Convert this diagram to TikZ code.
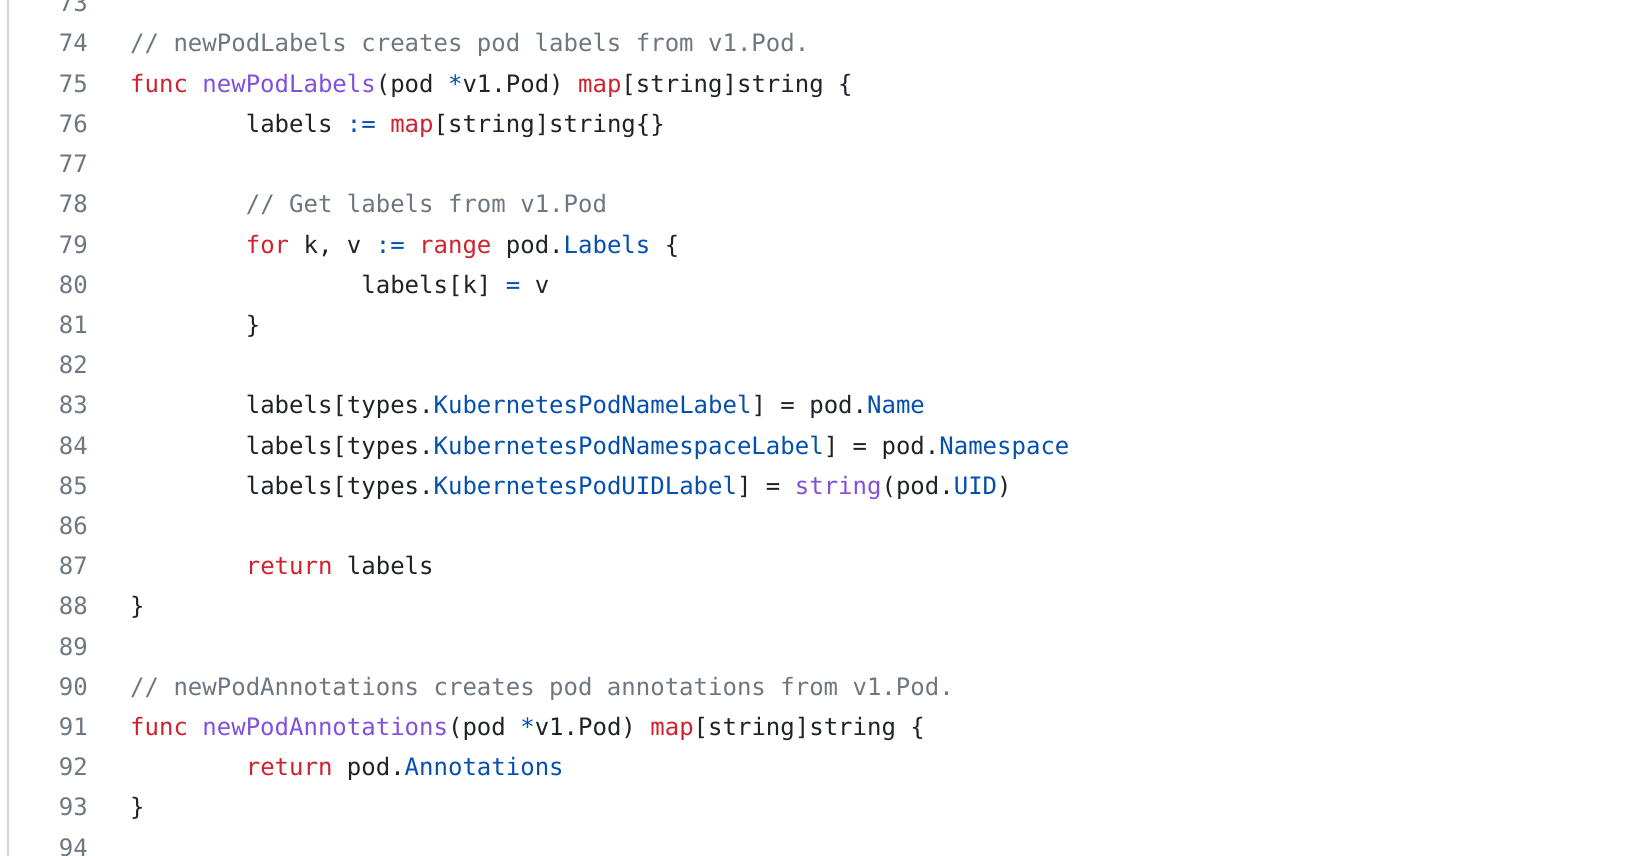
\documentclass[tikz,border=0pt]{standalone}
\usepackage{fontspec}
\newfontfamily\codef{DejaVu Sans Mono}
\definecolor{kw}{HTML}{CF222E}
\definecolor{fn}{HTML}{8250DF}
\definecolor{bl}{HTML}{0550AE}
\definecolor{cm}{HTML}{6E7781}
\definecolor{tx}{HTML}{1F2328}
\definecolor{bd}{HTML}{D0D0E8}
\newcommand\R[1]{\textcolor{kw}{#1}}
\newcommand\Pu[1]{\textcolor{fn}{#1}}
\newcommand\B[1]{\textcolor{bl}{#1}}
\newcommand\Cm[1]{\textcolor{cm}{#1}}
\tikzset{codeline/.style={anchor=base west,inner sep=0pt,font=\codef\fontsize{24}{28}\selectfont,text=tx},
lnum/.style={anchor=base east,inner sep=0pt,font=\codef\fontsize{24}{28}\selectfont,text=cm}}
\begin{document}
\begin{tikzpicture}[x=1pt,y=1pt]
\fill[white] (0,0) rectangle (1652,-856);
\useasboundingbox (0,0) rectangle (1652,-856);
\draw[bd,line width=2pt] (8,0) -- (8,-856);
\foreach \n in {73,...,94}{
  \node[lnum] (n\n) at (88,{-(52+40.2*(\n-74))}) {\n};
}
\def\Y#1{{-(52+40.2*(#1-74))}}
\def\X#1{{130+14.45*#1}}
\node[codeline] (l74) at (\X0,\Y{74}) {\Cm{// newPodLabels creates pod labels from v1.Pod.}};
\node[codeline] (l75) at (\X0,\Y{75}) {\R{func} \Pu{newPodLabels}(pod \B{*}v1.Pod) \R{map}[string]string \{};
\node[codeline] (l76) at (\X8,\Y{76}) {labels \B{:=} \R{map}[string]string\{\}};
\node[codeline] (l78) at (\X8,\Y{78}) {\Cm{// Get labels from v1.Pod}};
\node[codeline] (l79) at (\X8,\Y{79}) {\R{for} k, v \B{:=} \R{range} pod.\B{Labels} \{};
\node[codeline] (l80) at (\X{16},\Y{80}) {labels[k] \B{=} v};
\node[codeline] (l81) at (\X8,\Y{81}) {\}};
\node[codeline] (l83) at (\X8,\Y{83}) {labels[types.\B{KubernetesPodNameLabel}] = pod.\B{Name}};
\node[codeline] (l84) at (\X8,\Y{84}) {labels[types.\B{KubernetesPodNamespaceLabel}] = pod.\B{Namespace}};
\node[codeline] (l85) at (\X8,\Y{85}) {labels[types.\B{KubernetesPodUIDLabel}] = \Pu{string}(pod.\B{UID})};
\node[codeline] (l87) at (\X8,\Y{87}) {\R{return} labels};
\node[codeline] (l88) at (\X0,\Y{88}) {\}};
\node[codeline] (l90) at (\X0,\Y{90}) {\Cm{// newPodAnnotations creates pod annotations from v1.Pod.}};
\node[codeline] (l91) at (\X0,\Y{91}) {\R{func} \Pu{newPodAnnotations}(pod \B{*}v1.Pod) \R{map}[string]string \{};
\node[codeline] (l92) at (\X8,\Y{92}) {\R{return} pod.\B{Annotations}};
\node[codeline] (l93) at (\X0,\Y{93}) {\}};
\end{tikzpicture}
\end{document}
